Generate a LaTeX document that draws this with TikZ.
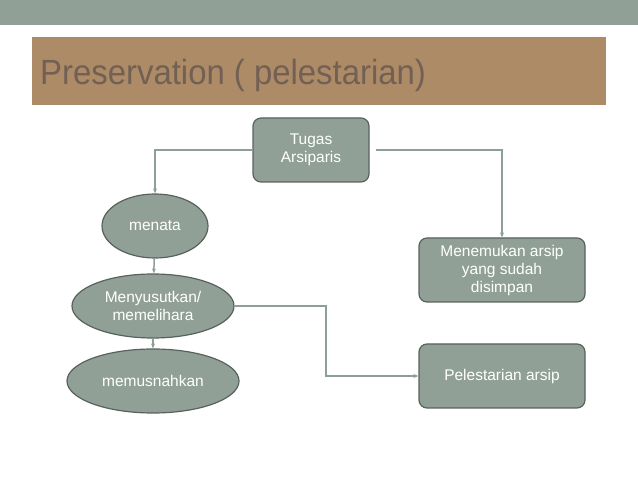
\documentclass[tikz,border=0pt]{standalone}
\usepackage{fontspec}
\setmainfont{Liberation Sans}
\usepackage{tikz}
\usetikzlibrary{arrows.meta, positioning, shapes.geometric}
\definecolor{sagegray}{RGB}{145, 160, 150}
\definecolor{sageline}{RGB}{140, 160, 152}
\definecolor{boxedge}{RGB}{88, 98, 93}
\definecolor{titlebrown}{RGB}{173, 139, 103}
\definecolor{titletext}{RGB}{114, 96, 84}

\begin{document}
\begin{tikzpicture}[
  x=1pt, y=-1pt,
  box/.style={rectangle, rounded corners=8pt, draw=boxedge, line width=1.2pt,
              fill=sagegray, text=white, align=center, inner sep=0pt,
              font=\fontsize{15.5}{18}\selectfont},
  oval/.style={ellipse, draw=boxedge, line width=1.2pt, fill=sagegray,
               text=white, align=center, inner sep=0pt,
               font=\fontsize{15.5}{18}\selectfont},
  arrow/.style={-{Stealth[length=5pt, width=4pt]}, draw=sageline, line width=1.5pt}
]
\useasboundingbox (0,0) rectangle (638,478);

% header
\fill[sagegray] (0,0) rectangle (638,25);
\fill[titlebrown] (32,37) rectangle (606,105);
\node[anchor=base west, inner sep=0pt, text=titletext, xscale=0.94, transform shape,
      font=\fontsize{35}{38}\selectfont] (title) at (40,85) {Preservation ( pelestarian)};

% nodes
\node[box, minimum width=116pt, minimum height=64pt] (tugas) at (311,150) {Tugas\\Arsiparis};
\node[oval, minimum width=106pt, minimum height=64pt] (menata) at (155,226) {menata};
\node[oval, minimum width=162pt, minimum height=64pt] (susut) at (153,306) {Menyusutkan/\\memelihara};
\node[oval, minimum width=172pt, minimum height=64pt] (musnah) at (153,381) {memusnahkan};
\node[box, minimum width=166pt, minimum height=64pt] (temu) at (502,270) {Menemukan arsip\\yang sudah\\disimpan};
\node[box, minimum width=166pt, minimum height=64pt] (lestari) at (502,376) {Pelestarian arsip};

% connectors
\draw[arrow] (tugas.west) -| (menata.north);
\draw[arrow] ([xshift=6pt]tugas.east) -| (temu.north);
\draw[arrow] (menata) -- (susut);
\draw[arrow] (susut) -- (musnah);
\draw[arrow] (susut.east) -- (326,306) |- (lestari.west);

\end{tikzpicture}
\end{document}
